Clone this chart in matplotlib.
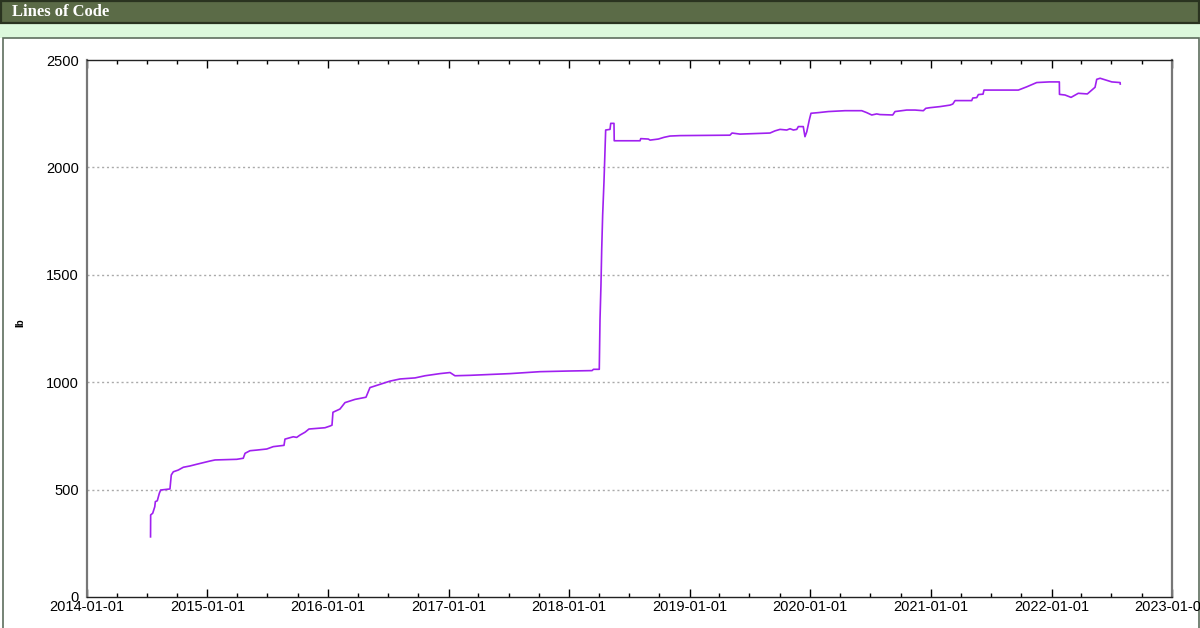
import matplotlib
matplotlib.use("Agg")
import matplotlib.pyplot as plt
import matplotlib.dates as mdates
from matplotlib.patches import Rectangle
from datetime import datetime, timedelta

title = "Lines of Code"
y_label = "lb"

# decimal years and line counts
years = [2014.527, 2014.528, 2014.545, 2014.562, 2014.567, 2014.583, 2014.600, 2014.611,
         2014.688, 2014.699, 2014.716, 2014.757, 2014.799, 2014.854, 2014.910, 2015.020,
         2015.062, 2015.242, 2015.296, 2015.311, 2015.352, 2015.408, 2015.491, 2015.545,
         2015.634, 2015.642, 2015.711, 2015.739, 2015.767, 2015.808, 2015.841, 2015.905,
         2015.974, 2016.016, 2016.032, 2016.040, 2016.098, 2016.140, 2016.223, 2016.314,
         2016.347, 2016.430, 2016.513, 2016.596, 2016.721, 2016.804, 2016.928, 2017.011,
         2017.052, 2017.177, 2017.509, 2017.757, 2017.990, 2018.189, 2018.201, 2018.249,
         2018.251, 2018.255, 2018.263, 2018.269, 2018.277, 2018.288, 2018.297, 2018.302,
         2018.338, 2018.344, 2018.371, 2018.373, 2018.587, 2018.593, 2018.656, 2018.670,
         2018.739, 2018.786, 2018.836, 2018.919, 2019.333, 2019.350, 2019.416, 2019.665,
         2019.706, 2019.748, 2019.804, 2019.831, 2019.859, 2019.887, 2019.900, 2019.941,
         2019.955, 2019.970, 2019.991, 2020.005, 2020.066, 2020.149, 2020.287, 2020.426,
         2020.467, 2020.509, 2020.550, 2020.577, 2020.683, 2020.702, 2020.799, 2020.868,
         2020.937, 2020.957, 2020.992, 2021.075, 2021.158, 2021.181, 2021.200, 2021.338,
         2021.347, 2021.380, 2021.393, 2021.432, 2021.440, 2021.725, 2021.794, 2021.877,
         2021.982, 2022.065, 2022.066, 2022.112, 2022.162, 2022.222, 2022.297, 2022.361,
         2022.375, 2022.403, 2022.500, 2022.569, 2022.570]
lines = [280, 382, 390, 420, 444, 448, 483, 498,
         503, 568, 583, 591, 604, 610, 618, 633,
         638, 641, 646, 669, 681, 684, 689, 700,
         706, 735, 746, 743, 754, 767, 782, 785,
         788, 796, 800, 860, 875, 905, 920, 930,
         975, 990, 1005, 1015, 1020, 1030, 1040, 1045,
         1030, 1032, 1040, 1049, 1052, 1054, 1060, 1060,
         1134, 1290, 1453, 1615, 1778, 1933, 2096, 2174,
         2177, 2205, 2205, 2124, 2124, 2134, 2132, 2127,
         2132, 2140, 2146, 2148, 2150, 2160, 2155, 2160,
         2170, 2177, 2174, 2180, 2174, 2177, 2190, 2190,
         2143, 2166, 2221, 2252, 2255, 2260, 2264, 2264,
         2255, 2244, 2249, 2246, 2244, 2260, 2267, 2267,
         2264, 2275, 2278, 2283, 2290, 2295, 2311, 2311,
         2323, 2325, 2339, 2341, 2360, 2360, 2375, 2395,
         2398, 2398, 2340, 2337, 2326, 2345, 2342, 2373,
         2410, 2415, 2398, 2395, 2388]

y_ticks = [0, 500, 1000, 1500, 2000, 2500]
x_start, x_end = datetime(2014, 1, 1), datetime(2023, 1, 1)

def to_date(y):
    return datetime(2014, 1, 1) + timedelta(days=(y - 2014) * 365.25)

dates = [to_date(y) for y in years]

W, H = 1200, 628
fig = plt.figure(figsize=(W / 100, H / 100), dpi=100)
fig.patch.set_facecolor("white")

def px_rect(x0, y0, w, h, **kw):
    fig.patches.append(Rectangle((x0 / W, 1 - (y0 + h) / H), w / W, h / H,
                                 transform=fig.transFigure, zorder=-10, **kw))

# light green strip and header
px_rect(0, 0, W, 38, facecolor="#dcf8dc", edgecolor="none")
px_rect(1, 1, W - 2, 22, facecolor="#5b6b47", edgecolor="#2a3320", linewidth=1.6)
# white panel
px_rect(3, 38, W - 4, H - 36, facecolor="white", edgecolor="#5e6e5e", linewidth=1.2)

fig.text(12 / W, 1 - 12 / H, title, color="white", fontsize=12, fontweight="bold",
         family="Liberation Serif", va="center", ha="left")

ax = fig.add_axes([87 / W, 1 - 597 / H, 1085 / W, 537 / H])
ax.set_zorder(5)
ax.patch.set_alpha(0)
ax.plot(dates, lines, color="#a020f0", linewidth=1.2)

ax.set_xlim(x_start, x_end)
ax.set_ylim(0, 2500)
ax.set_yticks(y_ticks)
ax.xaxis.set_major_locator(mdates.YearLocator())
ax.xaxis.set_minor_locator(mdates.MonthLocator(bymonth=[4, 7, 10]))
ax.xaxis.set_major_formatter(mdates.DateFormatter("%Y-%m-%d"))

for yv in y_ticks[1:-1]:
    ax.axhline(yv, color="#aaaaaa", linestyle=(0, (1.5, 2)), linewidth=1.0, zorder=0)

ax.tick_params(axis="both", which="major", direction="in", top=True, right=False,
               length=6, width=1, labelsize=10.5, colors="black", pad=2)
ax.tick_params(axis="x", which="minor", direction="in", top=True, length=3, width=1)
ax.tick_params(axis="y", which="major", length=0, pad=6)
for lab in ax.get_xticklabels() + ax.get_yticklabels():
    lab.set_family("Liberation Sans")

for s in ["left", "right"]:
    ax.spines[s].set_color("#777777")
    ax.spines[s].set_linewidth(1.6)
for s in ["top", "bottom"]:
    ax.spines[s].set_color("#222222")
    ax.spines[s].set_linewidth(1.0)

fig.text(20 / W, 1 - 323 / H, y_label, rotation=90, fontsize=7, fontweight="bold",
         ha="center", va="center", family="Liberation Sans")

fig.savefig("out.png", dpi=100)
